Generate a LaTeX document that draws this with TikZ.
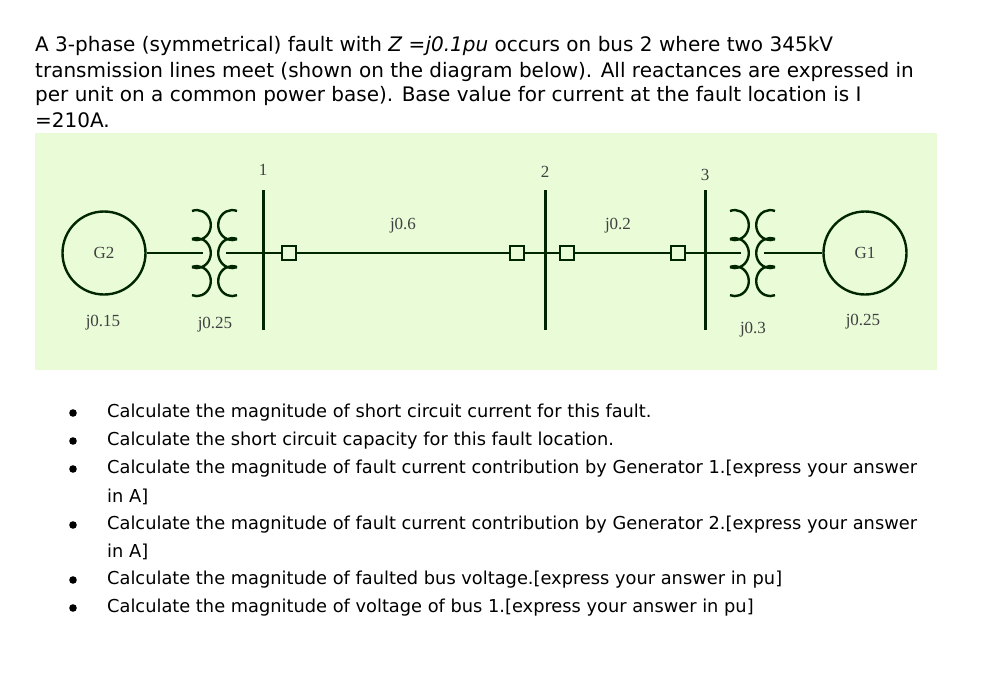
\documentclass[tikz,border=0pt]{standalone}
\usepackage{fontspec}
\setmainfont{DejaVu Sans}
\newfontfamily\diag{Liberation Serif}
\begin{document}
\begin{tikzpicture}[x=1pt,y=-1pt,
  txt/.style={anchor=west,inner sep=0pt,font=\fontsize{17.8}{20}\selectfont},
  htxt/.style={anchor=west,inner sep=0pt,font=\fontsize{20}{22}\selectfont},
  dl/.style={font=\diag\fontsize{17}{18}\selectfont,text=black!75,inner sep=0pt},
  wire/.style={draw=green!15!black,line width=2.4pt},
  busbar/.style={draw=green!15!black,line width=3pt},
  gen/.style={circle,draw=green!15!black,line width=2.4pt,minimum size=83pt,inner sep=0pt,font=\diag\fontsize{17}{18}\selectfont,text=black!75},
  brk/.style={rectangle,draw=green!15!black,line width=2.2pt,minimum size=14pt,inner sep=0pt,fill={rgb,255:red,233;green,252;blue,215}}]
\useasboundingbox (0,0) rectangle (988,685);
\fill[white] (0,0) rectangle (988,685);
\fill[fill={rgb,255:red,233;green,252;blue,215}] (35,133) rectangle (937,370);
% header text
\node[htxt] (h1) at (35,46) {A 3-phase (symmetrical) fault with \textit{Z} =\textit{j0.1pu} occurs on bus 2 where two 345kV};
\node[htxt] (h2) at (35,72) {transmission lines meet (shown on the diagram below). All reactances are expressed in};
\node[htxt] (h3) at (35,96) {per unit on a common power base). Base value for current at the fault location is I};
\node[htxt] (h4) at (35,120) {=210A.};
% generators
\node[gen] (g2) at (104,253) {G2};
\node[gen] (g1) at (865,253) {G1};
% buses
\coordinate (b1t) at (263,190); \coordinate (b1b) at (263,330);
\coordinate (b2t) at (545,190); \coordinate (b2b) at (545,330);
\coordinate (b3t) at (705,190); \coordinate (b3b) at (705,330);
\draw[busbar] (b1t) -- (b1b);
\draw[busbar] (b2t) -- (b2b);
\draw[busbar] (b3t) -- (b3b);
\node[dl] (l1) at (263,170) {1};
\node[dl] (l2) at (545,172) {2};
\node[dl] (l3) at (705,175) {3};
% transformers
\foreach \yy in {211,239,267}{
  \draw[wire] (192,\yy) arc[start angle=-110,end angle=110,x radius=14,y radius=15];
  \draw[wire] (237,\yy) arc[start angle=-70,end angle=-290,x radius=14,y radius=15];
  \draw[wire] (730,\yy) arc[start angle=-110,end angle=110,x radius=14,y radius=15];
  \draw[wire] (775,\yy) arc[start angle=-70,end angle=-290,x radius=14,y radius=15];
}
\coordinate (t2a) at (203,253); \coordinate (t2b) at (226,253);
\coordinate (t1a) at (741,253); \coordinate (t1b) at (764,253);
% breakers
\node[brk] (k1) at (289,253) {};
\node[brk] (k2) at (517,253) {};
\node[brk] (k3) at (567,253) {};
\node[brk] (k4) at (678,253) {};
% wires
\draw[wire] (g2.east) -- (t2a);
\draw[wire] (t2b) -- (k1.west);
\draw[wire] (k1.east) -- (k2.west);
\draw[wire] (k2.east) -- (k3.west);
\draw[wire] (k3.east) -- (k4.west);
\draw[wire] (k4.east) -- (t1a);
\draw[wire] (t1b) -- (g1.west);
% labels
\node[dl] (x1) at (403,226) {j0.6};
\node[dl] (x2) at (618,226) {j0.2};
\node[dl] (x3) at (103,323) {j0.15};
\node[dl] (x4) at (215,325) {j0.25};
\node[dl] (x5) at (753,330) {j0.3};
\node[dl] (x6) at (863,322) {j0.25};
% bullets
\foreach \yy in {413,441,469,525,580,608}{\fill (73,\yy) circle (3.8);}
\node[txt] (q1) at (107,413) {Calculate the magnitude of short circuit current for this fault.};
\node[txt] (q2) at (107,441) {Calculate the short circuit capacity for this fault location.};
\node[txt] (q3) at (107,469) {Calculate the magnitude of fault current contribution by Generator 1.[express your answer};
\node[txt] (q3b) at (107,497) {in A]};
\node[txt] (q4) at (107,525) {Calculate the magnitude of fault current contribution by Generator 2.[express your answer};
\node[txt] (q4b) at (107,552) {in A]};
\node[txt] (q5) at (107,580) {Calculate the magnitude of faulted bus voltage.[express your answer in pu]};
\node[txt] (q6) at (107,608) {Calculate the magnitude of voltage of bus 1.[express your answer in pu]};
\end{tikzpicture}
\end{document}
